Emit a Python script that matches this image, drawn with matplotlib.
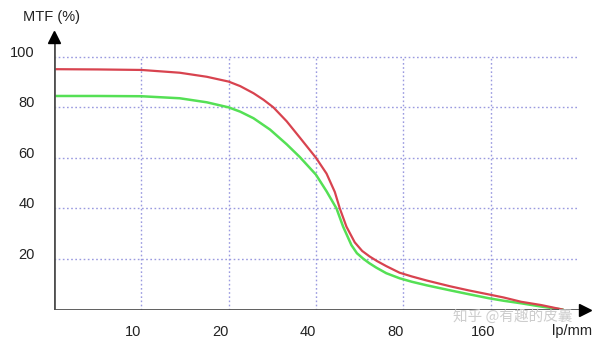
import matplotlib
matplotlib.use("Agg")
import matplotlib.pyplot as plt

# Data (x positions are grid-slot units: 0 = origin, 1 = "10", 2 = "20", 3 = "40", 4 = "80", 5 = "160")
x_tick_labels = ["10", "20", "40", "80", "160"]
y_tick_values = [20, 40, 60, 80, 100]

red_x = [0.0, 0.5, 1.0, 1.44, 1.75, 2.0, 2.133, 2.285, 2.40, 2.513, 2.665, 2.817, 3.0,
         3.122, 3.217, 3.274, 3.35, 3.445, 3.53, 3.616, 3.70, 3.806, 3.958, 4.1, 4.27,
         4.54, 4.75, 4.98, 5.15, 5.35, 5.58, 5.83]
red_y = [95.1, 95.0, 94.8, 93.7, 92.1, 90.2, 88.4, 85.6, 83.0, 80.0, 74.5, 68.0, 60.1,
         53.8, 46.5, 40.0, 32.8, 26.6, 23.2, 21.0, 19.2, 17.2, 14.6, 13.1, 11.5,
         9.2, 7.6, 6.0, 4.8, 3.1, 1.8, 0.0]

green_x = [0.0, 0.5, 1.0, 1.44, 1.75, 2.0, 2.133, 2.285, 2.475, 2.665, 2.817, 3.0, 3.122,
           3.236, 3.312, 3.407, 3.47, 3.54, 3.61, 3.692, 3.806, 3.958, 4.1, 4.27, 4.54,
           4.75, 4.98, 5.15, 5.35, 5.58, 5.83]
green_y = [84.5, 84.5, 84.4, 83.6, 82.0, 80.0, 78.3, 75.7, 71.2, 65.4, 60.3, 53.4, 46.8,
           40.0, 32.8, 25.5, 22.3, 20.2, 18.4, 16.6, 14.4, 12.4, 11.0, 9.6, 7.6,
           6.1, 4.5, 3.5, 2.5, 1.2, 0.0]

W, H = 600, 343
x0_px, y0_px = 54.0, 309.6
ux, uy = 87.3, 2.528
xmax = (590 - x0_px) / ux
ymax = 110

fig = plt.figure(figsize=(6.0, 3.43), dpi=100)
ax = fig.add_axes([x0_px / W, (H - y0_px) / H, xmax * ux / W, ymax * uy / H])
ax.set_xlim(0, xmax)
ax.set_ylim(0, ymax)
ax.axis("off")

grid_col = "#9a9ae0"
for v in y_tick_values:
    ax.plot([0, 6.0], [v, v], color=grid_col, lw=1.0, ls=(0, (1.2, 1.8)), zorder=1)
for i in range(1, 6):
    ax.plot([i, i], [0, 100], color=grid_col, lw=1.0, ls=(0, (1.2, 1.8)), zorder=1)

ax.plot(green_x, green_y, color="#55e055", lw=1.8, zorder=3,
        solid_capstyle="round", solid_joinstyle="round")
ax.plot(red_x, red_y, color="#d8434f", lw=1.6, zorder=4,
        solid_capstyle="round", solid_joinstyle="round")

axis_col = "#505050"
ax.plot([0, xmax - 0.05], [0, 0], color=axis_col, lw=2.0, zorder=5, solid_capstyle="butt")
ax.plot([0, 0], [0, 107], color=axis_col, lw=2.0, zorder=5, solid_capstyle="butt")
ax.plot([xmax - 0.06], [0], marker=">", color="black", ms=8, clip_on=False, zorder=6)
ax.plot([0], [108], marker="^", color="black", ms=8, clip_on=False, zorder=6)

font = "Liberation Sans"
for v in y_tick_values:
    ax.text(-0.22, v + 1.6, str(v), ha="right", va="center", fontsize=10.5,
            family=font, color="#222222")
for i, lab in enumerate(x_tick_labels, start=1):
    ax.text(i - 0.09, -9.0, lab, ha="center", va="center", fontsize=10.5,
            family=font, color="#222222")
ax.text(5.93, -8.5, "lp/mm", ha="center", va="center", fontsize=10.5,
        family=font, color="#222222")
fig.text(23 / W, 1 - 17 / H, "MTF (%)", ha="left", va="center", fontsize=10.5,
         family=font, color="#222222")
fig.text(513 / W, 1 - 317 / H, "知乎 @有趣的皮囊", ha="center", va="center",
         fontsize=10.5, family=["Noto Sans CJK SC", "DejaVu Sans"], color="#c8c8c8",
         alpha=0.9, zorder=10)

fig.savefig("out.png", dpi=100)
